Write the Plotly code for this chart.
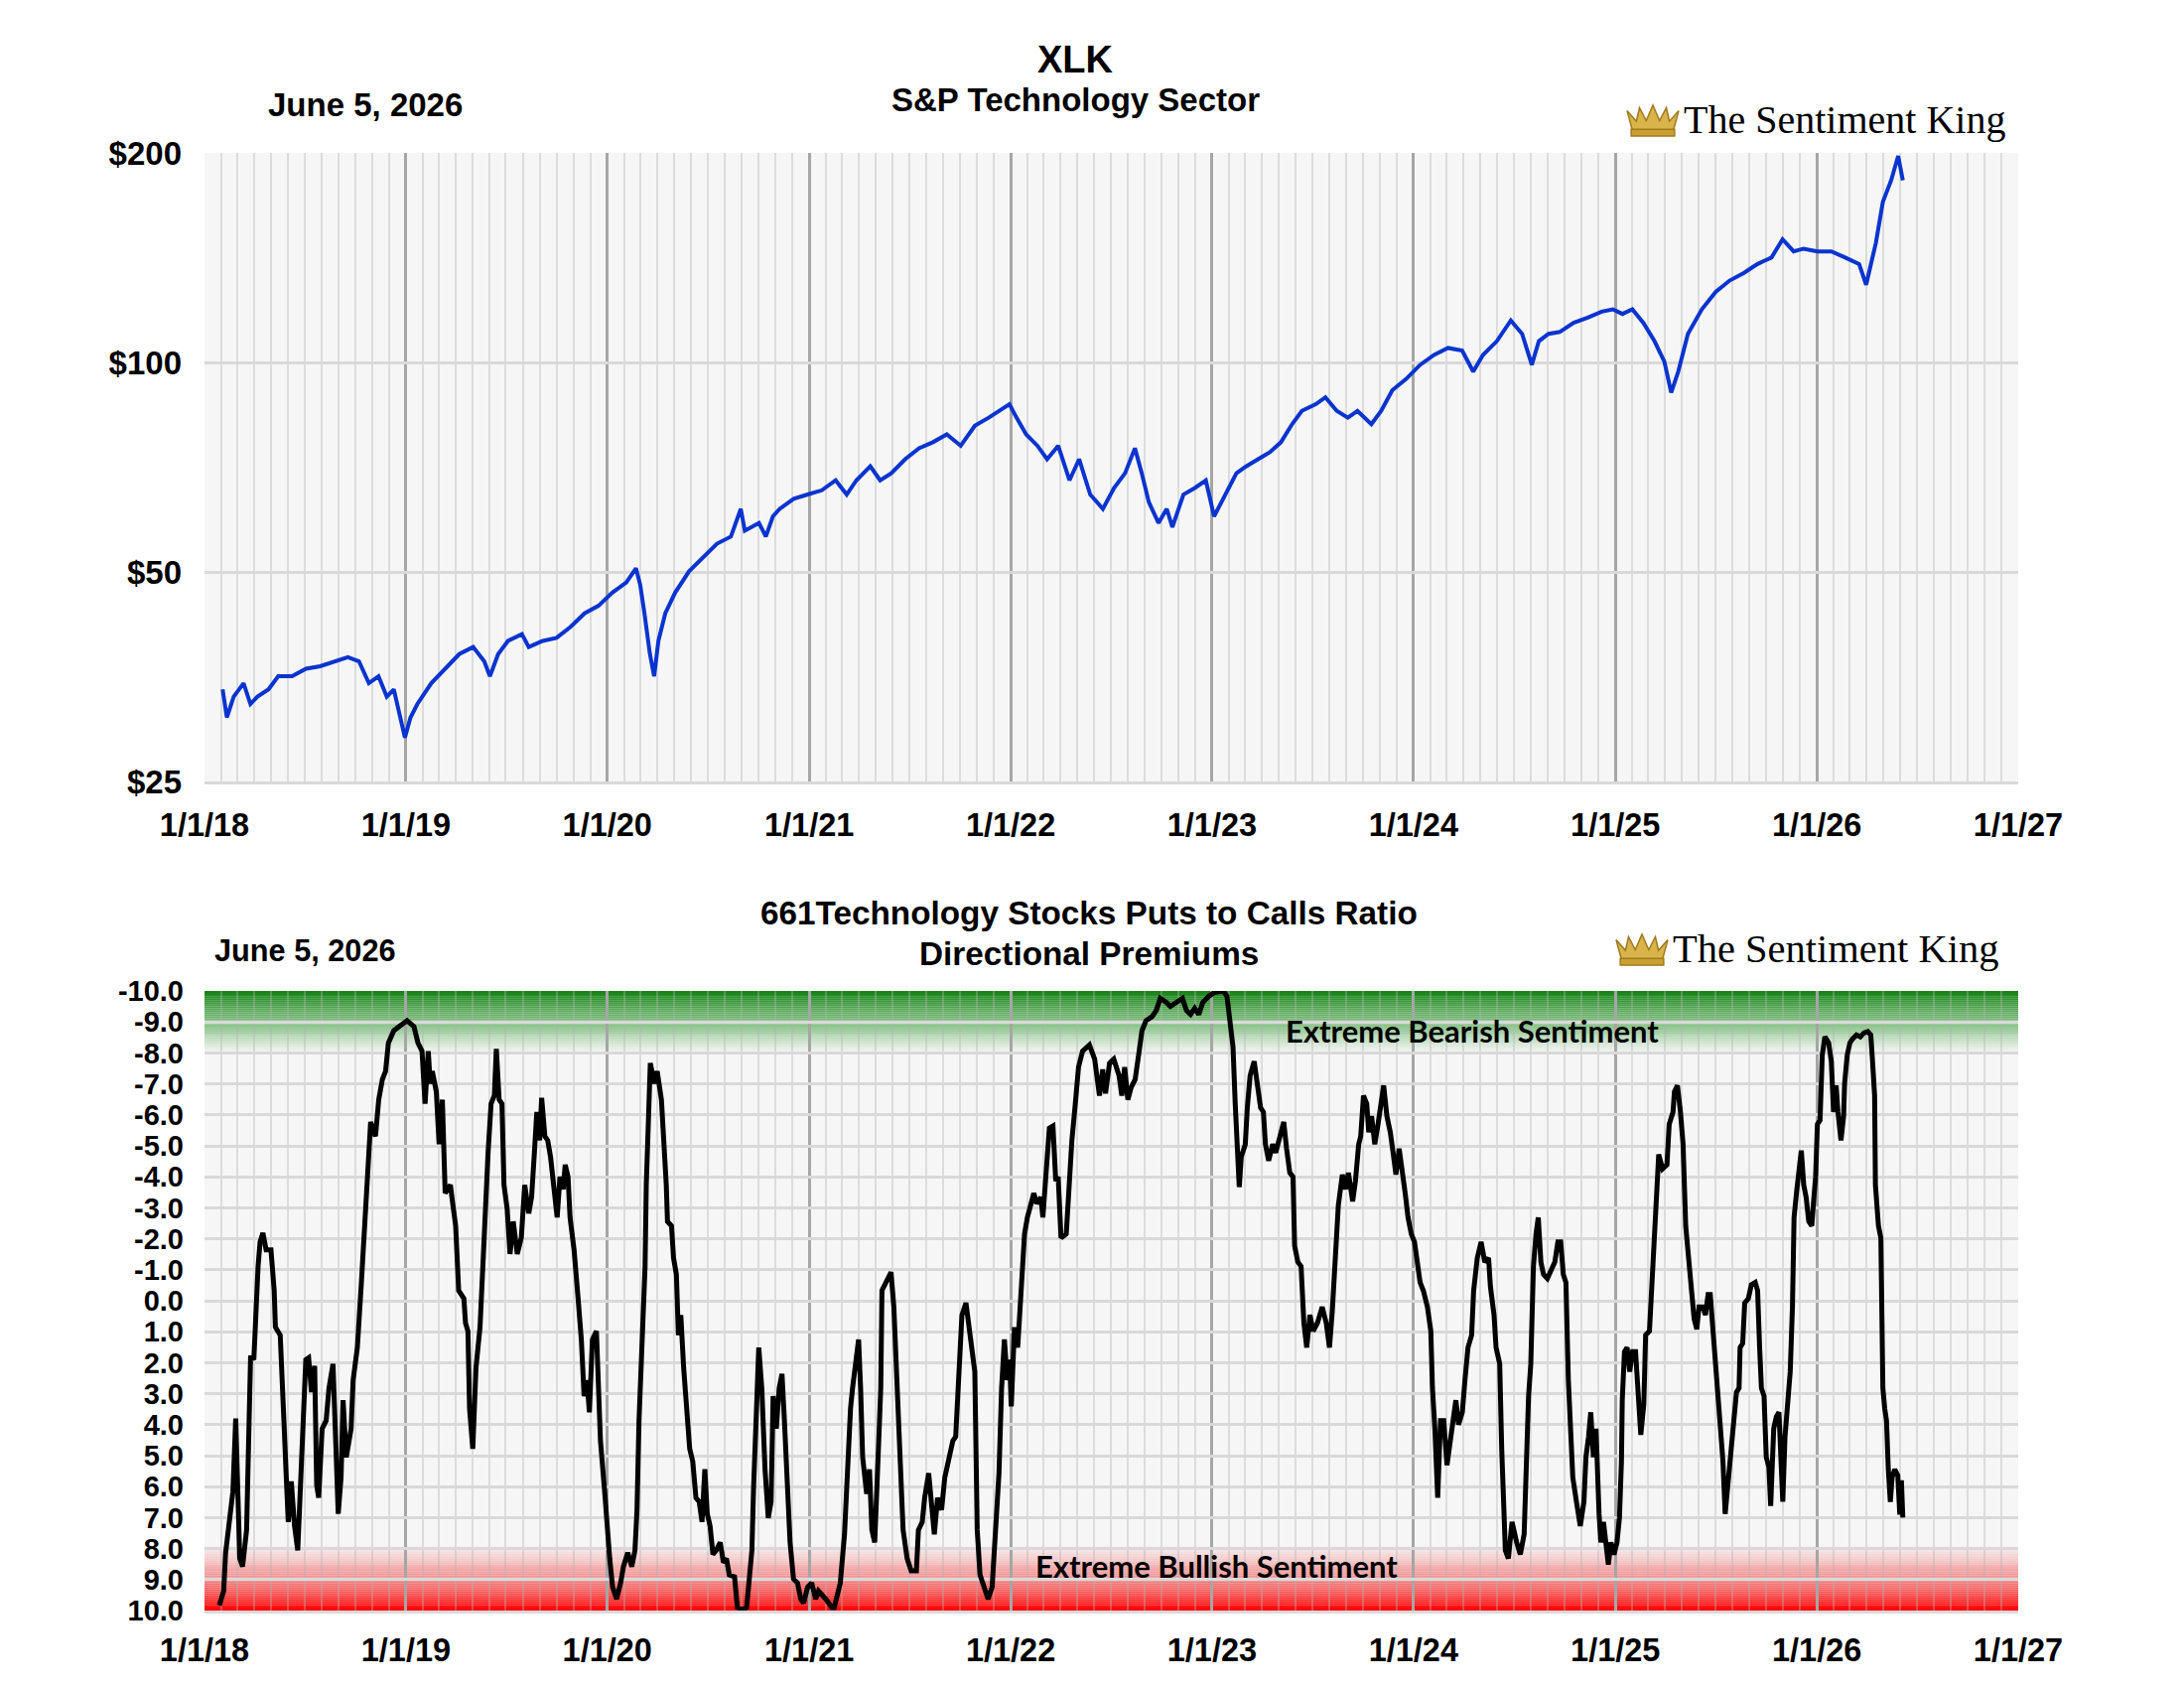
import math
from datetime import datetime, timedelta
import plotly.graph_objects as go

# ---------------- DATA ----------------
# XLK price (decimal year, price in $)
XLK_T = [2018.090, 2018.111, 2018.145, 2018.194, 2018.228, 2018.263, 2018.318, 2018.366, 2018.435, 2018.504,
         2018.574, 2018.643, 2018.712, 2018.767, 2018.816, 2018.864, 2018.905, 2018.940, 2018.974, 2018.995,
         2019.023, 2019.057, 2019.126, 2019.196, 2019.265, 2019.334, 2019.389, 2019.417, 2019.458, 2019.507,
         2019.576, 2019.610, 2019.679, 2019.748, 2019.818, 2019.887, 2019.956, 2020.025, 2020.094, 2020.142,
         2020.163, 2020.184, 2020.211, 2020.232, 2020.253, 2020.287, 2020.336, 2020.405, 2020.474, 2020.543,
         2020.612, 2020.661, 2020.681, 2020.751, 2020.785, 2020.820, 2020.854, 2020.923, 2020.992, 2021.062,
         2021.131, 2021.186, 2021.234, 2021.303, 2021.352, 2021.407, 2021.476, 2021.545, 2021.614, 2021.683,
         2021.752, 2021.822, 2021.891, 2021.946, 2021.994, 2022.029, 2022.077, 2022.133, 2022.181, 2022.236,
         2022.292, 2022.340, 2022.395, 2022.458, 2022.513, 2022.568, 2022.617, 2022.651, 2022.686, 2022.734,
         2022.775, 2022.803, 2022.858, 2022.914, 2022.969, 2023.010, 2023.066, 2023.121, 2023.169, 2023.225,
         2023.287, 2023.342, 2023.397, 2023.446, 2023.515, 2023.563, 2023.619, 2023.674, 2023.722, 2023.791,
         2023.840, 2023.895, 2023.964, 2024.033, 2024.102, 2024.171, 2024.241, 2024.296, 2024.344, 2024.413,
         2024.482, 2024.538, 2024.586, 2024.621, 2024.669, 2024.724, 2024.793, 2024.863, 2024.932, 2024.987,
         2025.035, 2025.084, 2025.139, 2025.194, 2025.243, 2025.277, 2025.312, 2025.360, 2025.429, 2025.498,
         2025.567, 2025.637, 2025.706, 2025.775, 2025.830, 2025.885, 2025.934, 2026.003, 2026.072, 2026.141,
         2026.210, 2026.245, 2026.293, 2026.328, 2026.369, 2026.404, 2026.427]
XLK_PRICE = [33.9, 30.9, 33.1, 34.6, 32.3, 33.1, 33.9, 35.4, 35.4, 36.3,
             36.6, 37.2, 37.7, 37.2, 34.6, 35.4, 33.1, 33.9, 30.9, 28.9,
             30.9, 32.3, 34.6, 36.3, 38.1, 39.0, 37.2, 35.4, 38.1, 39.8,
             40.7, 39.0, 39.8, 40.2, 41.7, 43.6, 44.7, 46.7, 48.3, 50.6,
             47.9, 43.6, 38.1, 35.4, 39.8, 43.6, 46.7, 50.1, 52.5, 54.9,
             56.2, 61.6, 57.3, 58.8, 56.2, 60.1, 61.6, 63.7, 64.6, 65.5,
             67.7, 64.6, 67.7, 70.9, 67.7, 69.3, 72.6, 75.3, 76.8, 78.8,
             75.9, 81.1, 83.3, 85.2, 87.1, 83.3, 78.8, 75.9, 72.6, 75.9,
             67.7, 72.6, 64.6, 61.6, 66.0, 69.3, 75.3, 69.3, 63.0, 58.8,
             61.6, 58.0, 64.6, 66.0, 67.7, 60.1, 64.6, 69.3, 70.9, 72.6,
             74.3, 76.8, 81.5, 85.2, 87.1, 89.1, 85.2, 83.3, 85.2, 81.5,
             85.2, 91.2, 94.7, 99.2, 102.5, 104.9, 104.0, 97.0, 102.5, 107.3,
             114.9, 109.9, 99.2, 107.3, 109.9, 110.6, 114.0, 116.0, 118.3, 119.2,
             117.4, 119.2, 114.0, 107.3, 100.3, 90.5, 97.0, 109.9, 119.2, 126.3,
             131.1, 134.4, 138.5, 141.5, 150.3, 144.4, 145.7, 144.4, 144.4, 141.5,
             138.5, 129.3, 148.4, 170.1, 182.6, 198.0, 182.6]

# Puts-to-calls ratio, directional premiums (decimal year, value)
PCR_T = [2018.074, 2018.095, 2018.105, 2018.121, 2018.141, 2018.155, 2018.165, 2018.175, 2018.189, 2018.209,
         2018.221, 2018.229, 2018.245, 2018.256, 2018.266, 2018.276, 2018.290, 2018.306, 2018.330, 2018.346,
         2018.352, 2018.376, 2018.386, 2018.396, 2018.406, 2018.416, 2018.431, 2018.447, 2018.463, 2018.477,
         2018.491, 2018.503, 2018.517, 2018.531, 2018.547, 2018.557, 2018.567, 2018.584, 2018.604, 2018.618,
         2018.638, 2018.648, 2018.664, 2018.678, 2018.688, 2018.704, 2018.728, 2018.738, 2018.759, 2018.779,
         2018.793, 2018.809, 2018.825, 2018.849, 2018.865, 2018.883, 2018.899, 2018.913, 2018.940, 2018.970,
         2019.006, 2019.040, 2019.060, 2019.080, 2019.095, 2019.111, 2019.121, 2019.131, 2019.151, 2019.165,
         2019.181, 2019.195, 2019.221, 2019.231, 2019.247, 2019.262, 2019.288, 2019.296, 2019.308, 2019.316,
         2019.332, 2019.348, 2019.368, 2019.382, 2019.396, 2019.408, 2019.423, 2019.439, 2019.449, 2019.463,
         2019.477, 2019.487, 2019.503, 2019.517, 2019.533, 2019.553, 2019.573, 2019.590, 2019.610, 2019.624,
         2019.638, 2019.650, 2019.664, 2019.674, 2019.690, 2019.704, 2019.718, 2019.734, 2019.751, 2019.765,
         2019.781, 2019.791, 2019.805, 2019.815, 2019.835, 2019.855, 2019.871, 2019.885, 2019.899, 2019.911,
         2019.926, 2019.946, 2019.956, 2019.966, 2019.986, 2020.000, 2020.012, 2020.026, 2020.046, 2020.066,
         2020.080, 2020.101, 2020.121, 2020.137, 2020.147, 2020.157, 2020.173, 2020.187, 2020.193, 2020.203,
         2020.213, 2020.233, 2020.247, 2020.268, 2020.278, 2020.292, 2020.298, 2020.318, 2020.328, 2020.342,
         2020.352, 2020.364, 2020.378, 2020.392, 2020.408, 2020.423, 2020.439, 2020.455, 2020.469, 2020.483,
         2020.495, 2020.509, 2020.523, 2020.539, 2020.559, 2020.575, 2020.590, 2020.604, 2020.630, 2020.644,
         2020.670, 2020.690, 2020.704, 2020.716, 2020.724, 2020.736, 2020.750, 2020.765, 2020.781, 2020.797,
         2020.811, 2020.821, 2020.837, 2020.851, 2020.865, 2020.877, 2020.891, 2020.905, 2020.922, 2020.942,
         2020.958, 2020.972, 2020.992, 2021.012, 2021.032, 2021.046, 2021.082, 2021.113,
         2021.124, 2021.154, 2021.175, 2021.191, 2021.205, 2021.215, 2021.231, 2021.245, 2021.255, 2021.265,
         2021.285, 2021.299, 2021.311, 2021.325, 2021.345, 2021.355, 2021.361, 2021.380, 2021.396, 2021.406,
         2021.420, 2021.436, 2021.450, 2021.466, 2021.486, 2021.506, 2021.532, 2021.542, 2021.561, 2021.573,
         2021.593, 2021.607, 2021.621, 2021.637, 2021.657, 2021.673, 2021.697, 2021.713, 2021.727, 2021.741,
         2021.758, 2021.778, 2021.794, 2021.808, 2021.822, 2021.834, 2021.848, 2021.868, 2021.888, 2021.908,
         2021.928, 2021.942, 2021.955, 2021.969, 2021.983, 2021.995, 2022.003, 2022.019, 2022.035, 2022.043,
         2022.059, 2022.069, 2022.083, 2022.099, 2022.115, 2022.129, 2022.150, 2022.160, 2022.176, 2022.192,
         2022.210, 2022.224, 2022.236, 2022.250, 2022.276, 2022.290, 2022.304, 2022.321, 2022.337, 2022.357,
         2022.391, 2022.417, 2022.441, 2022.457, 2022.471, 2022.491, 2022.512, 2022.538, 2022.552, 2022.566,
         2022.582, 2022.598, 2022.618, 2022.638, 2022.652, 2022.672, 2022.702, 2022.723, 2022.743, 2022.773,
         2022.793, 2022.823, 2022.853, 2022.873, 2022.893, 2022.914, 2022.934, 2022.954, 2022.984, 2023.014,
         2023.054, 2023.074, 2023.088, 2023.104, 2023.115, 2023.125, 2023.135, 2023.145, 2023.165, 2023.175,
         2023.189, 2023.209, 2023.225, 2023.241, 2023.255, 2023.265, 2023.281, 2023.301, 2023.316, 2023.336,
         2023.356, 2023.370, 2023.386, 2023.402, 2023.410, 2023.426, 2023.442, 2023.456, 2023.470, 2023.486,
         2023.502, 2023.523, 2023.547, 2023.567, 2023.583, 2023.597, 2023.611, 2023.627, 2023.647, 2023.663,
         2023.677, 2023.698, 2023.712, 2023.728, 2023.738, 2023.752, 2023.768, 2023.778, 2023.792, 2023.808,
         2023.824, 2023.838, 2023.852, 2023.868, 2023.885, 2023.899, 2023.913, 2023.929, 2023.945, 2023.959,
         2023.973, 2023.989, 2024.005, 2024.019, 2024.033, 2024.049, 2024.069, 2024.086, 2024.094, 2024.106,
         2024.120, 2024.134, 2024.150, 2024.166,
         2024.196, 2024.210, 2024.223, 2024.242, 2024.255, 2024.270, 2024.288, 2024.298, 2024.316, 2024.335,
         2024.353, 2024.372, 2024.381, 2024.399, 2024.409, 2024.427, 2024.437, 2024.455, 2024.470, 2024.488,
         2024.511, 2024.529, 2024.548, 2024.557, 2024.570, 2024.581, 2024.589, 2024.594, 2024.607, 2024.618,
         2024.631, 2024.644, 2024.663, 2024.681, 2024.700, 2024.715, 2024.729, 2024.742, 2024.755, 2024.767,
         2024.774, 2024.789, 2024.807, 2024.826, 2024.844, 2024.854, 2024.867, 2024.878, 2024.891, 2024.904,
         2024.919, 2024.928, 2024.941, 2024.956, 2024.965, 2024.978, 2024.993, 2025.008, 2025.020, 2025.030,
         2025.034, 2025.045, 2025.058, 2025.071, 2025.085, 2025.100, 2025.113, 2025.126, 2025.141, 2025.150,
         2025.169, 2025.182, 2025.193, 2025.206, 2025.215, 2025.234, 2025.256, 2025.267, 2025.286, 2025.293,
         2025.308, 2025.323, 2025.336, 2025.349, 2025.364, 2025.378, 2025.391, 2025.404, 2025.415, 2025.434,
         2025.447, 2025.460, 2025.471, 2025.484, 2025.497, 2025.508, 2025.521, 2025.534, 2025.545, 2025.558,
         2025.571, 2025.586, 2025.601, 2025.614, 2025.619, 2025.632, 2025.642, 2025.660, 2025.675, 2025.694,
         2025.706, 2025.716, 2025.725, 2025.738, 2025.749, 2025.762, 2025.771, 2025.786, 2025.799, 2025.812,
         2025.823, 2025.831, 2025.842, 2025.855, 2025.868, 2025.879, 2025.887, 2025.901, 2025.910, 2025.923,
         2025.935, 2025.947, 2025.960, 2025.975, 2025.984, 2025.994, 2026.003, 2026.016, 2026.027, 2026.040,
         2026.059, 2026.072, 2026.083, 2026.096, 2026.105, 2026.120, 2026.133, 2026.138, 2026.151, 2026.164,
         2026.177, 2026.197, 2026.216, 2026.235, 2026.253, 2026.268, 2026.276, 2026.287, 2026.291, 2026.306,
         2026.318, 2026.324, 2026.328, 2026.337, 2026.346, 2026.355, 2026.365, 2026.374, 2026.387, 2026.402,
         2026.412, 2026.420, 2026.427]
PCR_VAL = [9.83, 9.37, 8.13, 7.21, 6.16, 3.8, 5.96, 8.32, 8.58, 7.4,
           4.0, 1.77, 1.9, 0.2, -1.11, -1.9, -2.19, -1.64, -1.64, -0.33,
           0.85, 1.11, 3.08, 4.13, 5.7, 7.14, 5.83, 7.27, 8.06, 6.09,
           3.74, 1.9, 1.84, 2.95, 2.1, 5.96, 6.36, 4.13, 3.87, 2.82,
           2.04, 4.13, 6.88, 5.7, 3.21, 5.05, 4.13, 2.56, 1.51, -0.59,
           -2.03, -4.26, -5.77, -5.31, -6.49, -7.14, -7.41, -8.32, -8.72, -8.87,
           -9.04, -8.85, -8.32, -8.06, -6.36, -8.06, -7.01, -7.41, -6.75, -5.05,
           -6.49, -3.47, -3.74, -3.21, -2.42, -0.33, -0.07, 0.72, 0.98, 3.47,
           4.78, 2.16, 0.85, -1.11, -3.47, -4.78, -6.36, -6.62, -8.13, -6.49,
           -6.36, -3.74, -2.95, -1.51, -2.56, -1.51, -2.03, -3.74, -2.82, -3.34,
           -4.78, -6.09, -5.18, -6.55, -5.31, -5.18, -4.65, -3.6, -2.69, -4.0,
           -3.6, -4.39, -4.0, -2.69, -1.64, -0.07, 1.25, 3.08, 2.56, 3.6,
           1.25, 0.98, 2.56, 4.52, 6.09, 7.4, 8.32, 9.24, 9.63, 9.11,
           8.58, 8.13, 8.58, 8.06, 6.75, 3.87, 0.85, -1.11, -3.74, -5.31,
           -7.67, -7.01, -7.41, -6.49, -5.57, -3.74, -2.56, -2.42, -1.38, -0.85,
           1.11, 0.46, 2.16, 3.47, 4.78, 5.18, 6.36, 6.49, 7.14, 5.44,
           6.88, 7.27, 8.19, 8.06, 7.8, 8.45, 8.32, 8.85, 8.91, 9.9,
           9.96, 9.9, 8.98, 8.06, 6.09, 3.87, 1.51, 2.82, 5.44, 7.01,
           6.49, 3.08, 4.13, 2.82, 2.36, 3.87, 5.7, 7.8, 8.98, 9.11,
           9.63, 9.76, 9.24, 9.11, 9.63, 9.37, 9.63, 9.9,
           9.9, 9.11, 7.54, 4.91, 3.47, 2.82, 1.9, 1.25, 2.82, 5.05,
           6.23, 5.44, 7.4, 7.8, 4.52, 2.82, -0.33, -0.59, -0.85, -0.92,
           0.2, 2.69, 4.78, 7.4, 8.32, 8.72, 8.72, 7.4, 7.14, 6.36,
           5.57, 6.49, 7.54, 6.36, 6.75, 5.7, 5.05, 4.52, 4.39, 2.82,
           0.46, 0.07, 0.85, 1.77, 2.29, 7.4, 8.85, 9.24, 9.63, 9.24,
           7.14, 5.57, 2.82, 1.25, 2.56, 1.9, 3.41, 0.85, 1.51, 0.72,
           -0.85, -2.16, -2.69, -3.08, -3.47, -3.14, -3.34, -2.69, -4.13, -5.57,
           -5.64, -3.87, -4.0, -2.03, -2.16, -3.74, -5.18, -6.36, -7.54, -8.06,
           -8.26, -7.8, -6.62, -7.47, -6.69, -7.67, -7.8, -7.27, -6.62, -7.54,
           -6.49, -6.88, -7.14, -8.06, -8.72, -9.04, -9.17, -9.37, -9.76, -9.63,
           -9.5, -9.63, -9.76, -9.37, -9.24, -9.44, -9.24, -9.63, -9.83, -9.96,
           -10.0, -9.83, -8.98, -8.19, -6.36, -4.78, -3.67, -4.65, -5.05, -6.23,
           -7.27, -7.73, -6.88, -6.23, -6.09, -5.05, -4.52, -5.05, -4.78, -5.31,
           -5.77, -4.91, -4.13, -4.0, -1.77, -1.25, -1.11, 0.72, 1.51, 0.46,
           0.98, 0.72, 0.2, 0.72, 1.51, 0.33, -1.38, -3.08, -4.07, -3.6,
           -4.13, -3.21, -3.87, -5.05, -5.31, -6.62, -6.36, -5.44, -5.96, -5.05,
           -5.7, -6.49, -6.95, -5.96, -5.44, -4.78, -4.07, -4.91, -4.26, -3.47,
           -2.69, -2.16, -1.9, -1.25, -0.59, -0.33, 0.2, 0.98, 2.82, 4.13,
           6.36, 3.87, 3.87, 5.31,
           3.87, 3.21, 4.0, 3.6, 2.56, 1.51, 1.11, -0.33, -1.38, -1.9,
           -1.25, -1.38, -0.46, 0.46, 1.51, 2.03, 4.78, 8.06, 8.32, 7.14,
           7.8, 8.19, 7.54, 5.18, 3.08, 2.04, 0.46, -1.11, -2.16, -2.69,
           -1.25, -0.85, -0.72, -0.98, -1.25, -1.9, -1.9, -0.85, -0.59, 2.56,
           3.87, 5.7, 6.49, 7.27, 6.49, 5.05, 4.39, 3.6, 5.05, 4.13,
           6.88, 7.8, 7.14, 7.93, 8.52, 7.8, 8.19, 7.8, 7.01, 5.18,
           3.21, 1.64, 1.51, 2.29, 1.64, 1.64, 3.34, 4.33, 3.34, 1.11,
           0.98, -0.72, -2.03, -3.34, -4.72, -4.26, -4.39, -5.7, -6.09, -6.75,
           -6.95, -6.09, -5.05, -2.42, -1.11, -0.33, 0.59, 0.92, 0.2, 0.2,
           0.46, -0.2, -0.2, 0.85, 2.03, 3.08, 4.13, 5.18, 6.88, 5.96,
           5.05, 4.13, 2.95, 2.82, 1.51, 1.38, 0.07, -0.07, -0.52, -0.59,
           -0.33, 1.51, 2.82, 3.08, 5.05, 5.37, 6.62, 4.13, 3.74, 3.6,
           5.44, 6.49, 4.39, 3.34, 2.29, 0.2, -2.69, -3.6, -4.26, -4.85,
           -3.74, -3.34, -2.56, -2.42, -3.21, -4.0, -5.7, -5.83, -7.93, -8.52,
           -8.32, -7.73, -6.09, -6.95, -6.09, -5.18, -5.96, -7.01, -7.93, -8.32,
           -8.45, -8.58, -8.52, -8.65, -8.69, -8.58, -7.8, -6.62, -3.74, -2.42,
           -2.03, 0.2, 2.82, 3.47, 3.87, 5.44, 6.49, 5.7, 5.44, 5.64,
           6.9, 5.8, 7.0]

YEARS = list(range(2018, 2028))
PRICE_TICKS = [25, 50, 100, 200]
PRICE_TICK_LABELS = ["$25", "$50", "$100", "$200"]
PCR_TICKS = list(range(-10, 11))
BEARISH_ZONE = [-10, -9, -8]          # value levels of the green gradient
BULLISH_ZONE = [7.9, 9, 10]           # value levels of the red gradient

# ---------------- HELPERS ----------------
W, H = 2200, 1700


def yr2date(t):
    y = int(t)
    start = datetime(y, 1, 1)
    ndays = (datetime(y + 1, 1, 1) - start).days
    return start + timedelta(days=(t - y) * ndays)


def px(x):
    return x / W


def py(y):
    return 1 - y / H


X_LEFT, X_RIGHT = 206, 2033
TOP_T, TOP_B = 154, 787
BOT_T, BOT_B = 998, 1622

FONT = "Liberation Sans, Arial, sans-serif"
tick_vals = [f"{y}-01-01" for y in YEARS]
tick_text = [f"1/1/{y % 100:02d}" for y in YEARS]

fig = go.Figure()

fig.add_trace(go.Scatter(
    x=[yr2date(t) for t in XLK_T], y=XLK_PRICE, mode="lines",
    line=dict(color="#0A34CF", width=4), xaxis="x", yaxis="y",
    hoverinfo="x+y"))

fig.add_trace(go.Scatter(
    x=[yr2date(t) for t in PCR_T], y=PCR_VAL, mode="lines",
    line=dict(color="#000000", width=5), xaxis="x2", yaxis="y2",
    hoverinfo="x+y"))

# ---------------- GRADIENT BANDS (below grid) ----------------
def lerp(c1, c2, f):
    return tuple(round(a + (b - a) * f) for a, b in zip(c1, c2))


shapes = []


def band(levels, colors, steps=16):
    for i in range(len(levels) - 1):
        a, b = levels[i], levels[i + 1]
        for k in range(steps):
            y0 = a + (b - a) * k / steps
            y1 = a + (b - a) * (k + 1) / steps
            c = lerp(colors[i], colors[i + 1], (k + 0.5) / steps)
            shapes.append(dict(type="rect", xref="x2", yref="y2",
                               x0="2018-01-01", x1="2027-01-01", y0=y0, y1=y1,
                               fillcolor=f"rgb{c}", line=dict(width=0), layer="below"))


band(BEARISH_ZONE, [(20, 130, 20), (128, 190, 128), (245, 245, 245)])
band(BULLISH_ZONE, [(245, 245, 245), (242, 138, 138), (255, 0, 0)])

# ---------------- CROWN LOGO (decoration) ----------------
def crown(x0, y0, w, h):
    pts = [(0.10, 0.80), (0.00, 0.18), (0.18, 0.52), (0.24, 0.08), (0.37, 0.50),
           (0.50, 0.00), (0.63, 0.50), (0.76, 0.08), (0.82, 0.52), (1.00, 0.18), (0.90, 0.80)]
    d = "M " + " L ".join(f"{px(x0 + u * w):.5f},{py(y0 + v * h):.5f}" for u, v in pts) + " Z"
    shapes.append(dict(type="path", xref="paper", yref="paper", path=d,
                       fillcolor="#D9B44A", line=dict(color="#A07A1E", width=1.5)))
    shapes.append(dict(type="rect", xref="paper", yref="paper",
                       x0=px(x0 + 0.08 * w), x1=px(x0 + 0.92 * w),
                       y0=py(y0 + h), y1=py(y0 + 0.78 * h),
                       fillcolor="#C9A030", line=dict(color="#A07A1E", width=1.5)))


crown(1639, 106, 52, 31)
crown(1628, 941, 52, 31)

# ---------------- AXES ----------------
common_x = dict(
    type="date", range=["2018-01-01", "2027-01-01"],
    tickmode="array", tickvals=tick_vals, ticktext=tick_text,
    showgrid=True, gridcolor="#A6A6A6", gridwidth=2.5,
    minor=dict(dtick="M1", tick0="2018-01-01", showgrid=True,
               gridcolor="rgba(180,180,180,0.38)", gridwidth=2),
    showline=True, linecolor="#D9D9D9", linewidth=3,
    ticks="", zeroline=False,
    tickfont=dict(family=FONT, size=32.5, color="black", weight="bold"),
    domain=[px(X_LEFT), px(X_RIGHT)], automargin=False,
)

fig.update_layout(
    width=W, height=H,
    margin=dict(l=0, r=0, t=0, b=0),
    paper_bgcolor="white", plot_bgcolor="#F6F6F6",
    showlegend=False,
    xaxis=dict(common_x, anchor="y", ticklabelstandoff=13),
    yaxis=dict(type="log", range=[math.log10(25), math.log10(200)],
               tickmode="array", tickvals=PRICE_TICKS, ticktext=PRICE_TICK_LABELS,
               showgrid=True, gridcolor="#D9D9D9", gridwidth=3,
               ticks="", zeroline=False, showline=False,
               tickfont=dict(family=FONT, size=33, color="black", weight="bold"),
               ticklabelstandoff=22,
               domain=[py(TOP_B), py(TOP_T)], anchor="x", automargin=False),
    xaxis2=dict(common_x, anchor="y2", ticklabelstandoff=9),
    yaxis2=dict(range=[10, -10], tickmode="array", tickvals=PCR_TICKS,
                ticktext=[f"{v:.1f}" for v in PCR_TICKS],
                showgrid=True, gridcolor="#D9D9D9", gridwidth=3,
                ticks="", zeroline=False, showline=False,
                tickfont=dict(family=FONT, size=29, color="black", weight="bold"),
                ticklabelstandoff=20,
                domain=[py(BOT_B), py(BOT_T)], anchor="x2", automargin=False),
    shapes=shapes,
)

# ---------------- TEXT ----------------
def ann(text, x, y, size, xanchor="center", family=FONT, bold=True, color="black"):
    fig.add_annotation(text=f"<b>{text}</b>" if bold else text,
                       x=px(x), y=py(y), xref="paper", yref="paper",
                       xanchor=xanchor, yanchor="middle", showarrow=False,
                       font=dict(family=family, size=size, color=color))


ann("XLK", 1083, 60, 38)
ann("S&amp;P Technology Sector", 1083, 100, 33)
ann("June 5, 2026", 368, 105, 33)
ann("The Sentiment King", 1694, 121, 40, xanchor="left",
    family="Liberation Serif, Times New Roman, serif", bold=False)

ann("661Technology Stocks Puts to Calls Ratio", 1097, 920, 33.3)
ann("Directional Premiums", 1097, 960, 33.3)
ann("June 5, 2026", 307, 957, 30.7)
ann("The Sentiment King", 1683, 955, 40.5, xanchor="left",
    family="Liberation Serif, Times New Roman, serif", bold=False)

ann("Extreme Bearish Sentiment", 1483, 1038, 31, family="Lato, Open Sans, sans-serif")
ann("Extreme Bullish Sentiment", 1225, 1577, 31, family="Lato, Open Sans, sans-serif")

fig.write_html("out.html")
